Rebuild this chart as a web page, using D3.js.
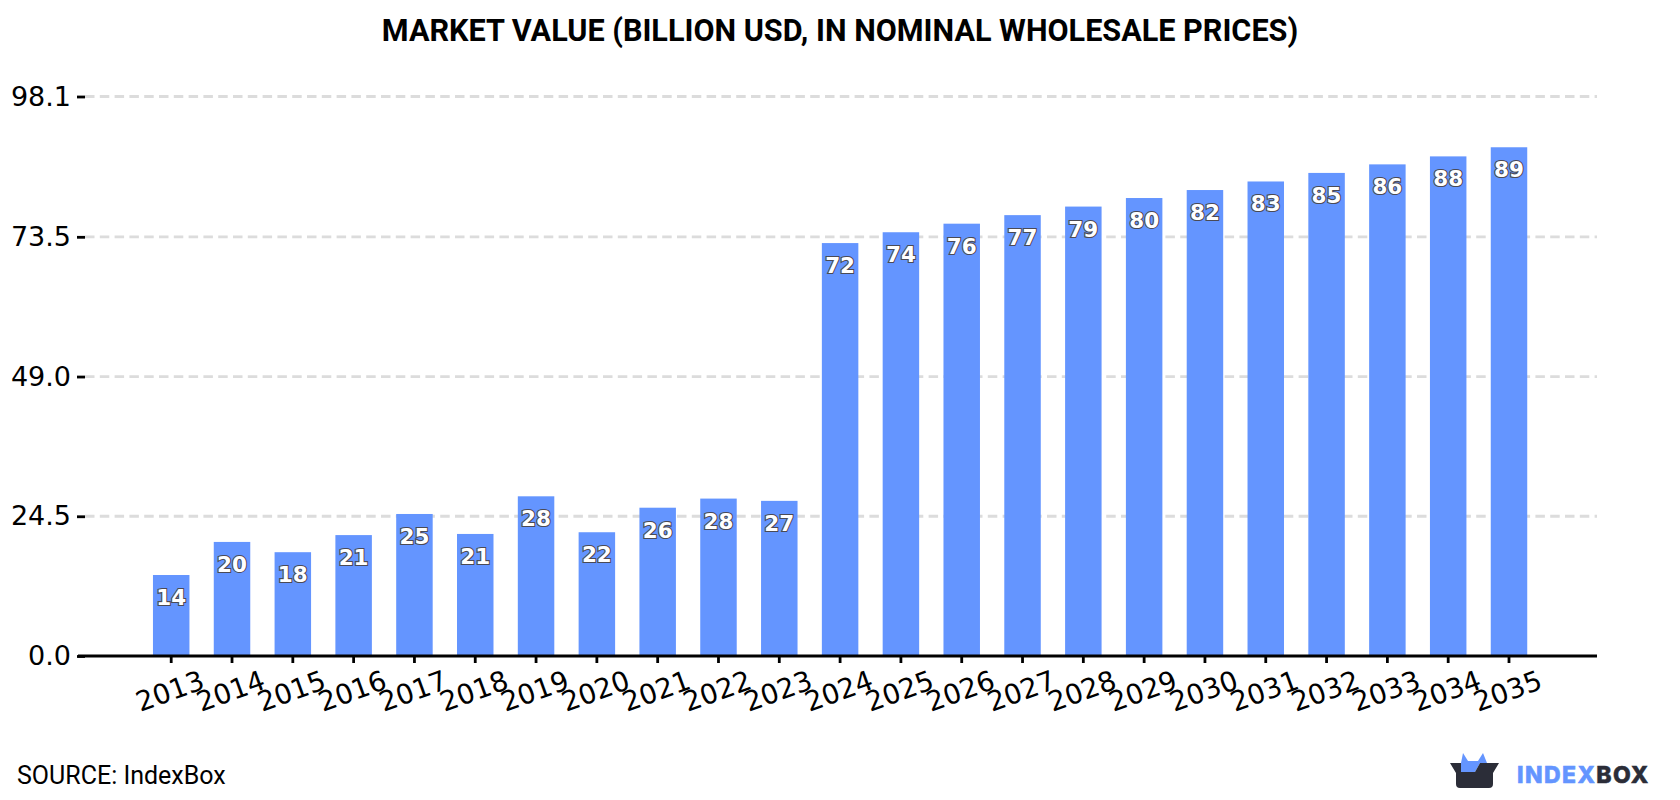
<!DOCTYPE html>
<html>
<head>
<meta charset="utf-8">
<script src="https://cdn.jsdelivr.net/npm/d3@7"></script>
<style>
html, body { margin: 0; padding: 0; background: #fff; }
svg { display: block; }
</style>
</head>
<body>
<svg id="chart" width="1680" height="800"></svg>
<script>
const years = [2013,2014,2015,2016,2017,2018,2019,2020,2021,2022,2023,2024,2025,2026,2027,2028,2029,2030,2031,2032,2033,2034,2035];
const marketValue = [14.2,20.0,18.2,21.2,24.9,21.4,28.0,21.7,26.0,27.6,27.2,72.4,74.3,75.8,77.3,78.8,80.3,81.7,83.2,84.7,86.2,87.6,89.2];
const yTicks = [0, 24.5, 49.0, 73.5, 98.1];
const titleText = "MARKET VALUE (BILLION USD, IN NOMINAL WHOLESALE PRICES)";
const sourceText = "SOURCE: IndexBox";

const svg = d3.select("#chart");
const margin = { left: 78, right: 83, top: 96.5, bottom: 144 };
const width = 1680, height = 800;

const x = d3.scaleBand()
  .domain(years)
  .range([margin.left + 2.6, width - margin.right + 2.6])
  .paddingInner(0.4)
  .paddingOuter(1.19);

const y = d3.scaleLinear()
  .domain([0, 98.1])
  .range([height - margin.bottom, margin.top]);

// Title
svg.append("text")
  .attr("x", 840).attr("y", 41)
  .attr("text-anchor", "middle")
  .attr("font-family", "Roboto").attr("font-weight", 700)
  .attr("font-size", 30.6).attr("fill", "#000")
  .text(titleText);

// Dashed gridlines, skipping the baseline
svg.append("g").selectAll("line")
  .data(yTicks.filter(d => d > 0))
  .join("line")
  .attr("x1", margin.left + 7).attr("x2", width - margin.right)
  .attr("y1", d => y(d)).attr("y2", d => y(d))
  .attr("stroke", "#dcdcdc").attr("stroke-width", 2.8)
  .attr("stroke-dasharray", "9.5 5.3");

// Bars
svg.append("g").selectAll("rect")
  .data(years)
  .join("rect")
  .attr("x", d => x(d))
  .attr("width", x.bandwidth())
  .attr("y", (d, i) => y(marketValue[i]))
  .attr("height", (d, i) => y(0) - y(marketValue[i]))
  .attr("fill", "#6495ff");

// Value labels with a dark halo under white fill
svg.append("g").selectAll("text")
  .data(years)
  .join("text")
  .attr("x", d => x(d) + x.bandwidth() / 2)
  .attr("y", (d, i) => y(marketValue[i]) + 30)
  .attr("text-anchor", "middle")
  .attr("font-family", "DejaVu Sans").attr("font-weight", 700)
  .attr("font-size", 21.5)
  .attr("fill", "#fff").attr("stroke", "#4a4a55").attr("stroke-width", 2.2)
  .attr("paint-order", "stroke")
  .text((d, i) => Math.round(marketValue[i]));

// Y axis
const yAxis = d3.axisLeft(y).tickValues(yTicks).tickSize(8).tickPadding(6)
  .tickFormat(d3.format(".1f"));
const gy = svg.append("g")
  .attr("transform", `translate(${margin.left + 7},0)`)
  .call(yAxis);
gy.select(".domain").remove();
gy.selectAll(".tick line").attr("stroke", "#000").attr("stroke-width", 2.8);
gy.selectAll(".tick text")
  .attr("font-family", "DejaVu Sans").attr("font-size", 27).attr("fill", "#000");

// X axis
const xAxis = d3.axisBottom(x).tickSize(7).tickPadding(5);
const gx = svg.append("g")
  .attr("transform", `translate(0,${y(0)})`)
  .call(xAxis);
gx.select(".domain").attr("stroke", "#000").attr("stroke-width", 3)
  .attr("d", `M${margin.left},0H${width - margin.right}`);
gx.selectAll(".tick line").attr("stroke", "#000").attr("stroke-width", 2.8);
gx.selectAll(".tick text")
  .attr("font-family", "DejaVu Sans").attr("font-size", 27.5).attr("fill", "#000")
  .attr("text-anchor", "middle").attr("dy", 0)
  .attr("transform", "translate(2,44) rotate(-20)")
  .attr("y", 0);

// Source note
svg.append("text")
  .attr("x", 17).attr("y", 784)
  .attr("font-family", "Roboto").attr("font-size", 25).attr("fill", "#000")
  .text(sourceText);

// Logo: box with blue contents, then the wordmark
const logo = svg.append("g").attr("transform", "translate(1450,752)");
logo.append("path")
  .attr("d", "M11,11 L13,1 L18,9 L28,9 L33,1 L37,11 H30 L25,20 H11Z")
  .attr("fill", "#6495ff");
logo.append("path")
  .attr("d", "M0,11 H11 V20 H25 L30,11 H49 L43,21 V32 Q43,36 39,36 H10 Q6,36 6,32 V21Z")
  .attr("fill", "#2b2d38");
const word = svg.append("text")
  .attr("x", 1517).attr("y", 782.5)
  .attr("font-family", "Inter").attr("font-weight", 800)
  .attr("font-size", 23).attr("letter-spacing", 1.4)
  .attr("stroke-width", 0.5);
word.append("tspan").attr("fill", "#6495ff").attr("stroke", "#6495ff").text("INDEX");
word.append("tspan").attr("fill", "#2b2d38").attr("stroke", "#2b2d38").text("BOX");
</script>
</body>
</html>
